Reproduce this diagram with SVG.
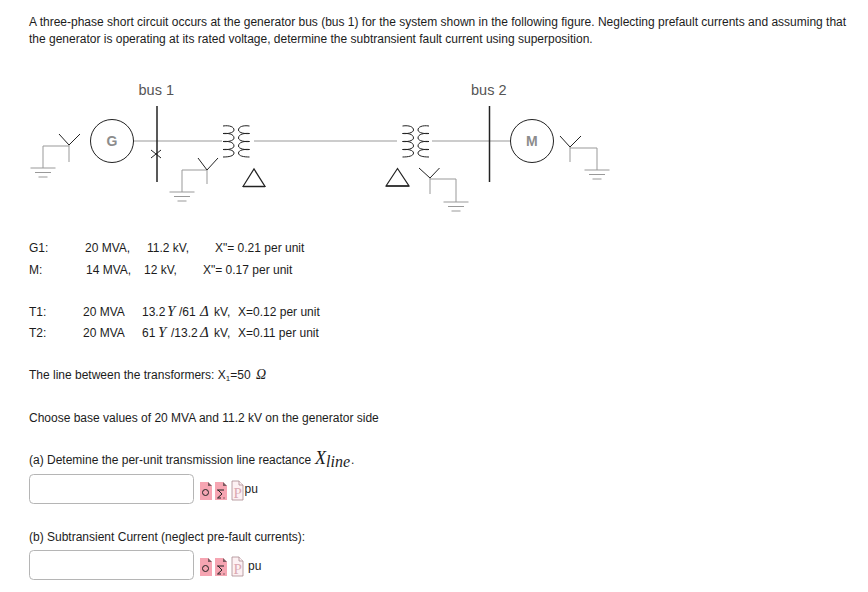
<svg xmlns="http://www.w3.org/2000/svg" width="868" height="592" viewBox="0 0 868 592">
<style>
text{font-family:"Liberation Sans",Arial,sans-serif;font-size:12px;fill:#1c1c1c}
.dl{font-size:14.500px;fill:#555}
.lt{font-size:14px;fill:#666;font-weight:bold;opacity:.75}
.m{font-family:"Liberation Serif","DejaVu Serif",serif;font-style:italic;font-size:15px}
.w{fill:none;stroke:#999;stroke-width:1}
.k{fill:none;stroke:#222;stroke-width:1}
.b{fill:none;stroke:#222;stroke-width:1.500}
.tri{fill:none;stroke:#222;stroke-width:1.200}
.box{fill:#fff;stroke:#b5b5b5;stroke-width:1}
.ic{fill:#f6a5b2}
.cor{fill:#7d5a60}
.pg{fill:#fdf1f3;stroke:#a98b90;stroke-width:.8}
.pl{font-family:"Liberation Serif",serif;font-size:15px;fill:#dba9b2}
</style>
<defs>
<g id="gnd"><path class="w" d="M-12.500 0H12.500M-8 4.500H8M-4.500 9H4.500"/></g>
<g id="coilL"><path class="k" d="M0 0C7 -1 11 1 11 4C11 7 4 8 0 7.500C5 7 11 8 11 12C11 15 4 16 0 15.500C5 15 11 16 11 20C11 23 4 24 0 23.500C5 23 11 24 11 27C11 30 6 31 0 31"/></g>
<g id="coilR"><path class="k" d="M11 0C4 -1 0 1 0 4C0 7 7 8 11 7.500C6 7 0 8 0 12C0 15 7 16 11 15.500C6 15 0 16 0 20C0 23 7 24 11 23.500C6 23 0 24 0 27C0 30 5 31 11 31"/></g>
<g id="icons">
<path class="ic" d="M0 0H8L12 4V18H0Z"/><path class="cor" d="M8 0L12 4H8Z"/><circle cx="5.500" cy="10.500" r="3" fill="none" stroke="#222"/>
<path class="ic" d="M15 0H23L27 4V18H15Z"/><path class="cor" d="M23 0L27 4H23Z"/><path fill="none" stroke="#222" d="M17 8H24M18 8L22 12L17.500 16H21M24 15.500V16.500"/>
<path class="pg" d="M32 -1H39L43 3V18H32Z"/><path class="pg" d="M39 -1V3H43"/><text class="pl" x="33.500" y="15.500">P</text>
</g>
</defs>

<text x="29" y="26">A three-phase short circuit occurs at the generator bus (bus 1) for the system shown in the following figure. Neglecting prefault currents and assuming that</text>
<text x="29" y="43">the generator is operating at its rated voltage, determine the subtransient fault current using superposition.</text>

<g id="connectors">
<path class="w" d="M133 141H222M254 141H397M432 141H511"/>
<path class="w" d="M69 145V162M69 146H43V168"/>
<path class="w" d="M207 170V184M207 170H182V192"/>
<path class="w" d="M430 178V194M430 179H456V202"/>
<path class="w" d="M570 147V162M570 148H597V170"/>
</g>

<g id="bus1"><text class="dl" x="138.500" y="95">bus 1</text><path class="b" d="M157 106V182"/><path class="k" d="M151 150L161 158M161 150L151 158"/></g>
<g id="bus2"><text class="dl" x="471" y="95">bus 2</text><path class="b" d="M489.500 106V182"/></g>

<g id="G"><circle cx="112" cy="141" r="21.500" class="k" fill="#fff"/><text class="lt" x="106.500" y="146">G</text></g>
<g id="M"><circle cx="532" cy="141" r="21.500" class="k" fill="#fff"/><text class="lt" x="526" y="146">M</text></g>

<g id="G-ground"><path class="k" d="M59 134L69 145L80 134"/><use href="#gnd" x="43" y="168"/></g>
<g id="T1"><use href="#coilL" x="223" y="126"/><use href="#coilR" x="238.500" y="126"/><path class="k" d="M198 158L207 170L218 158"/><use href="#gnd" x="182" y="192"/><path class="tri" d="M243 186.500L254 169L265 186.500Z"/><path class="b" d="M243 186.500H265"/></g>
<g id="T2"><use href="#coilL" x="402.500" y="126"/><use href="#coilR" x="418" y="126"/><path class="k" d="M419 168L430 178L439.500 168"/><use href="#gnd" x="456" y="202"/><path class="tri" d="M386 186L397.500 168.500L409 186Z"/><path class="b" d="M386 186H409"/></g>
<g id="M-ground"><path class="k" d="M560 136L570 147L581 136"/><use href="#gnd" x="597" y="170"/></g>

<text x="29" y="252">G1:</text><text x="85" y="252">20  MVA,</text><text x="147" y="252">11.2 kV,</text><text x="215" y="252">X"= 0.21 per unit</text>
<text x="29" y="274">M:</text><text x="86" y="274">14 MVA,</text><text x="144" y="274">12 kV,</text><text x="203" y="274">X"= 0.17 per unit</text>

<text x="29" y="316">T1:</text><text x="83" y="316">20 MVA</text><text x="142" y="316">13.2</text><text class="m" x="167" y="316">Υ</text><text x="179" y="316">/61</text><text class="m" x="200" y="316">Δ</text><text x="214" y="316">kV,</text><text x="238" y="316">X=0.12 per unit</text>
<text x="29" y="337">T2:</text><text x="83" y="337">20 MVA</text><text x="142" y="337">61</text><text class="m" x="158" y="337">Υ</text><text x="171" y="337">/13.2</text><text class="m" x="200" y="337">Δ</text><text x="214" y="337">kV,</text><text x="238" y="337">X=0.11 per unit</text>

<text x="29" y="379">The line between the transformers: X<tspan dy="2" style="font-size:8px">1</tspan><tspan dy="-2">=50 </tspan></text><text class="m" x="256" y="379" style="font-size:14px">Ω</text>

<text x="29" y="422">Choose base values of 20 MVA and 11.2 kV on the generator side</text>

<text x="29" y="464">(a) Detemine the per-unit transmission line reactance</text><text class="m" x="315" y="464" style="font-size:18px">X</text><text class="m" x="326" y="467" style="font-size:16px">line</text><text x="351" y="464">.</text>
<g id="answer-a"><rect class="box" x="29.500" y="474.500" width="164" height="29" rx="4"/><use href="#icons" x="200" y="482"/><text x="244.500" y="493">pu</text></g>

<text x="29" y="541">(b) Subtransient Current (neglect pre-fault currents):</text>
<g id="answer-b"><rect class="box" x="29.500" y="550.500" width="164" height="29" rx="4"/><use href="#icons" x="200" y="558"/><text x="248" y="570">pu</text></g>
</svg>
